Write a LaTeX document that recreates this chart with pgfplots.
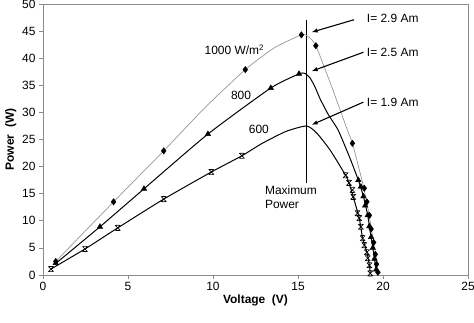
\documentclass[border=0pt]{standalone}
\usepackage{pgfplots}
\pgfplotsset{compat=1.18}
\usepackage{fontspec}
\setmainfont{Liberation Sans}
\usetikzlibrary{arrows.meta}

% X-shaped marker with short caps at top and bottom
\pgfdeclareplotmark{capx}{%
  \pgfpathmoveto{\pgfqpoint{-\pgfplotmarksize}{-\pgfplotmarksize}}%
  \pgfpathlineto{\pgfqpoint{\pgfplotmarksize}{\pgfplotmarksize}}%
  \pgfpathmoveto{\pgfqpoint{-\pgfplotmarksize}{\pgfplotmarksize}}%
  \pgfpathlineto{\pgfqpoint{\pgfplotmarksize}{-\pgfplotmarksize}}%
  \pgfpathmoveto{\pgfqpoint{-0.7\pgfplotmarksize}{\pgfplotmarksize}}%
  \pgfpathlineto{\pgfqpoint{0.7\pgfplotmarksize}{\pgfplotmarksize}}%
  \pgfpathmoveto{\pgfqpoint{-0.7\pgfplotmarksize}{-\pgfplotmarksize}}%
  \pgfpathlineto{\pgfqpoint{0.7\pgfplotmarksize}{-\pgfplotmarksize}}%
  \pgfusepathqstroke}

\definecolor{framegray}{RGB}{140,140,140}
\definecolor{curvegray}{RGB}{150,150,150}

\newcommand{\lbl}{\fontsize{12}{13.5}\selectfont}

\begin{document}
\begin{tikzpicture}
\begin{axis}[
  scale only axis,
  width=425bp, height=271bp,
  xmin=0, xmax=25, ymin=0, ymax=50,
  xtick={0,5,...,25}, ytick={0,5,...,50},
  tick align=outside,
  xtick pos=bottom, ytick pos=left,
  major tick length=4bp,
  axis line style={framegray, line width=0.8pt},
  tick style={framegray, line width=0.8pt},
  /pgf/number format/assume math mode=true,
  tick label style={font=\lbl},
  xlabel={\textbf{Voltage\ \ (V)}},
  ylabel={\textbf{Power\ \ (W)}},
  label style={font=\lbl},
  xlabel style={yshift=3bp},
  ylabel style={yshift=-1bp},
  clip=false,
]

% maximum power marker line
\draw[black, line width=1pt] (axis cs:15.5,47) -- (axis cs:15.5,17);

% 1000 W/m2 curve
\addplot[curvegray, line width=0.7pt, smooth, tension=0.35, mark=none] coordinates {
 (0.75,2.5) (4.15,13.5) (7.1,22.9) (9.5,30.8) (11.9,37.9) (13.6,41.9)
 (15.2,44.3) (15.6,44.0) (16.05,42.3) (17.0,34.6) (17.9,26.8) (18.2,24.3)
 (18.8,17.0) (19.1,12.5) (19.4,7.0) (19.6,3.0) (19.72,0.3)
};
% 800 W/m2 curve
\addplot[black, line width=1pt, smooth, tension=0.35, mark=none] coordinates {
 (0.7,2.0) (3.35,8.9) (5.94,15.9) (9.7,26.0) (13.4,34.5) (15.06,37.1)
 (15.4,37.2) (15.7,36.4) (16.0,34.7) (16.3,32.5) (16.8,29.5) (17.35,26.8)
 (18.0,22.0) (18.55,17.5) (18.85,14.5) (19.1,11.0) (19.3,7.0) (19.5,3.0) (19.6,0.5)
};
% 600 W/m2 curve
\addplot[black, line width=1pt, smooth, tension=0.35, mark=none] coordinates {
 (0.47,1.1) (2.47,4.8) (4.4,8.7) (7.1,14.0) (9.9,19.0) (11.7,22.0)
 (12.9,24.3) (14.3,26.5) (15.5,27.5) (16.1,26.2) (16.9,23.0) (17.8,18.4)
 (18.0,17.0) (18.25,14.4) (18.6,10.5) (18.8,6.8) (19.05,4.2) (19.2,1.8) (19.25,0.3)
};

% measured points, 1000 W/m2
\addplot[only marks, mark=diamond*, mark size=3.2bp, black] coordinates {
 (0.75,2.5) (4.15,13.5) (7.1,22.9) (11.9,37.9) (15.2,44.3) (16.05,42.3)
 (18.2,24.3) (18.9,16.0) (19.05,13.5) (19.2,11.0) (19.3,8.5) (19.45,6.0)
 (19.55,3.8) (19.62,2.0) (19.7,0.5)
};
% measured points, 800 W/m2
\addplot[only marks, mark=triangle*, mark size=3.2bp, black] coordinates {
 (0.75,2.2) (3.35,8.9) (5.94,15.9) (9.7,26.0) (13.4,34.5) (15.06,37.1)
 (18.55,17.5) (18.7,16.3) (18.85,14.5) (18.95,12.8) (19.1,11.0) (19.2,9.0)
 (19.3,7.0) (19.4,5.0) (19.5,3.0) (19.6,1.0)
};
% measured points, 600 W/m2
\addplot[only marks, mark=capx, mark size=2.6bp, black, line width=0.7pt] coordinates {
 (0.47,1.1) (2.47,4.8) (4.4,8.7) (7.1,14.0) (9.9,19.0) (11.7,22.0)
 (17.8,18.4) (18.0,17.0) (18.2,15.7) (18.25,14.4) (18.5,11.4) (18.6,10.5)
 (18.7,8.9) (18.8,6.8) (18.9,5.5) (19.05,4.2) (19.1,3.1) (19.2,1.8) (19.25,0.3)
};

% curve labels
\node[font=\lbl, anchor=west] at (axis cs:9.3,41.5) {1000 W/m\textsuperscript{2}};
\node[font=\lbl] at (axis cs:11.65,33.2) {800};
\node[font=\lbl] at (axis cs:12.7,26.8) {600};
\node[font=\lbl, anchor=north west, align=left, inner sep=0pt] at (axis cs:13.05,16.5) {Maximum\\[1bp]Power};

% current annotations
\draw[-{Latex[length=6bp,width=4.5bp]}, line width=1.1pt] (axis cs:18.3,47.1) -- (axis cs:15.8,44.8);
\node[font=\lbl, anchor=west] at (axis cs:18.85,47.4) {I= 2.9 Am};
\draw[-{Latex[length=6bp,width=4.5bp]}, line width=1.1pt] (axis cs:18.85,41.1) -- (axis cs:15.8,37.6);
\node[font=\lbl, anchor=west] at (axis cs:18.85,41.0) {I= 2.5 Am};
\draw[-{Latex[length=6bp,width=4.5bp]}, line width=1.1pt] (axis cs:18.85,31.9) -- (axis cs:15.8,27.7);
\node[font=\lbl, anchor=west] at (axis cs:18.85,31.8) {I= 1.9 Am};
\end{axis}
\pgfresetboundingbox
\path[use as bounding box] (-43bp,-48bp) rectangle (431bp,275bp);
\end{tikzpicture}
\end{document}
